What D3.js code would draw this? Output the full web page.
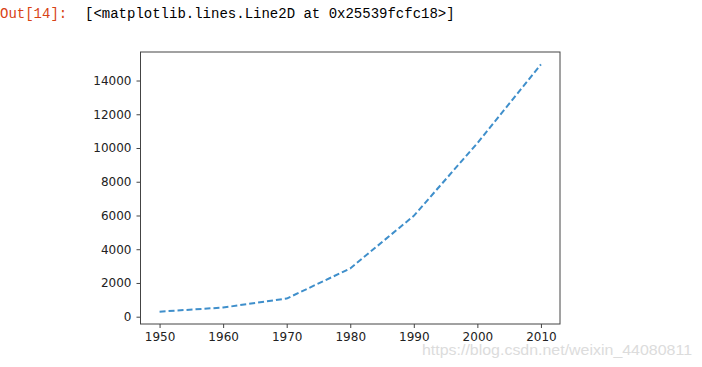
<!DOCTYPE html>
<html>
<head>
<meta charset="utf-8">
<script src="https://cdn.jsdelivr.net/npm/d3@7"></script>
<style>
  body { margin: 0; background: #fff; }
  svg { display: block; }
</style>
</head>
<body>
<svg id="chart" width="702" height="367"></svg>
<script>
// years vs gdp, plotted with a dashed line (matplotlib style)
const years = [1950, 1960, 1970, 1980, 1990, 2000, 2010];
const gdp = [300.2, 543.3, 1075.9, 2862.5, 5979.6, 10289.7, 14958.3];
const xTicks = [1950, 1960, 1970, 1980, 1990, 2000, 2010];
const yTicks = [0, 2000, 4000, 6000, 8000, 10000, 12000, 14000];

const svg = d3.select("#chart");

// notebook output prompt
svg.append("text")
    .attr("x", 0).attr("y", 18)
    .style("font-family", "'Liberation Mono', 'DejaVu Sans Mono', monospace")
    .style("font-size", "14px")
    .attr("fill", "#d84315")
    .text("Out[14]:");

svg.append("text")
    .attr("x", 85).attr("y", 18)
    .style("font-family", "'Liberation Mono', 'DejaVu Sans Mono', monospace")
    .style("font-size", "14px")
    .attr("fill", "#000")
    .text("[<matplotlib.lines.Line2D at 0x25539fcfc18>]");

var plot = {left: 140.5, right: 560, top: 52, bottom: 324};

// 5% margins like matplotlib autoscale
var xMin = d3.min(years), xMax = d3.max(years);
var xPad = (xMax - xMin) * 0.05;
var yMin = d3.min(gdp), yMax = d3.max(gdp);
var yPad = (yMax - yMin) * 0.05;

let x = d3.scaleLinear()
    .domain([xMin - xPad, xMax + xPad])
    .range([plot.left, plot.right]);

let y = d3.scaleLinear()
    .domain([yMin - yPad, yMax + yPad])
    .range([plot.bottom, plot.top]);

let line = d3.line()
    .x((d, i) => x(years[i]))
    .y(d => y(d));

svg.append("path")
    .datum(gdp)
    .attr("d", line)
    .attr("fill", "none")
    .attr("stroke", "#3f8fcb")
    .attr("stroke-width", 2)
    .attr("stroke-dasharray", "6,3");

let xAxis = svg.append("g")
    .attr("transform", "translate(0," + plot.bottom + ")")
    .call(d3.axisBottom(x).tickValues(xTicks).tickFormat(d3.format("d")).tickSizeOuter(0).tickSize(4).tickPadding(4));

let yAxis = svg.append("g")
    .attr("transform", "translate(" + plot.left + ",0)")
    .call(d3.axisLeft(y).tickValues(yTicks).tickFormat(d3.format("d")).tickSizeOuter(0).tickSize(4).tickPadding(5));

[xAxis, yAxis].forEach(function(a) {
    a.select(".domain").remove();
    a.selectAll("line").attr("stroke", "#444");
    a.selectAll("text")
        .attr("fill", "#222")
        .style("font-family", "'DejaVu Sans', sans-serif")
        .style("font-size", "12px");
});

// axes frame
svg.append("rect")
    .attr("x", plot.left).attr("y", plot.top)
    .attr("width", plot.right - plot.left)
    .attr("height", plot.bottom - plot.top)
    .attr("fill", "none")
    .attr("stroke", "#444")
    .attr("stroke-width", 1);

// watermark
svg.append("text")
    .attr("x", 422).attr("y", 355)
    .attr("textLength", 270)
    .attr("lengthAdjust", "spacingAndGlyphs")
    .style("font-family", "'Liberation Sans', Arial, sans-serif")
    .style("font-size", "14.5px")
    .attr("fill", "#dcdcdc")
    .text("https://blog.csdn.net/weixin_44080811");
</script>
</body>
</html>
